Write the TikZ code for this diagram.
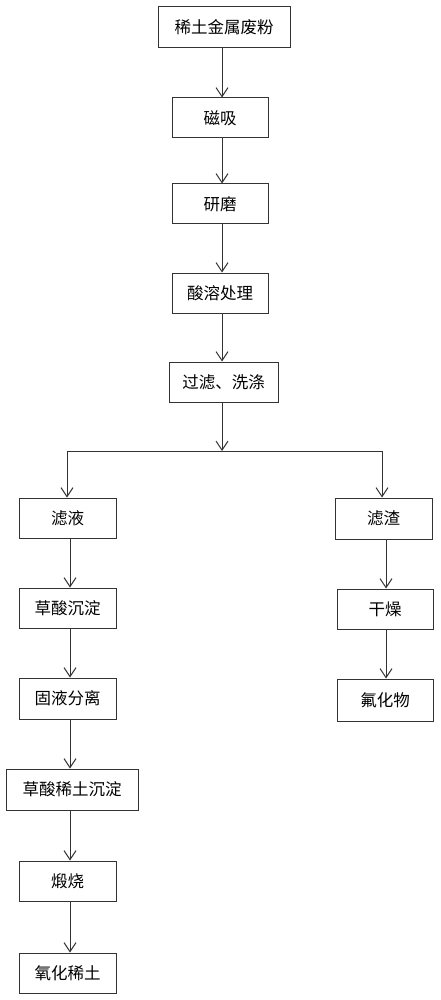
\documentclass[tikz,border=0pt]{standalone}
\usepackage{fontspec}
\newfontfamily\cjk{Noto Sans CJK SC}
\usetikzlibrary{arrows.meta}
\begin{document}
\begin{tikzpicture}[x=1pt,y=-1pt,
  box/.style={draw=black!80,line width=1pt,minimum height=40pt,inner sep=0pt,font=\cjk\fontsize{16.5}{18}\selectfont},
  flow/.style={draw=black!80,line width=1pt,-{Straight Barb[length=9pt,width=12pt,line width=1pt]}},
  link/.style={draw=black!80,line width=1pt}]
\useasboundingbox[fill=white] (0,0) rectangle (440,1000);
\node[box,minimum width=132pt,minimum height=41pt] (b1) at (224,27.5) {稀土金属废粉};
\node[box,minimum width=96pt] (b2) at (220,118) {磁吸};
\node[box,minimum width=96pt] (b3) at (220,204) {研磨};
\node[box,minimum width=96pt] (b4) at (220,293) {酸溶处理};
\node[box,minimum width=109pt] (b5) at (223.5,382) {过滤、洗涤};
\node[box,minimum width=97pt] (l1) at (67.5,518) {滤液};
\node[box,minimum width=97pt] (l2) at (67.5,608) {草酸沉淀};
\node[box,minimum width=97pt,minimum height=41pt] (l3) at (67.5,698.5) {固液分离};
\node[box,minimum width=132pt,minimum height=41pt] (l4) at (72,789.5) {草酸稀土沉淀};
\node[box,minimum width=97pt] (l5) at (67.5,881) {煅烧};
\node[box,minimum width=97pt] (l6) at (67.5,973) {氧化稀土};
\node[box,minimum width=97pt,minimum height=41pt] (r1) at (383.5,518.5) {滤渣};
\node[box,minimum width=96pt] (r2) at (385,609) {干燥};
\node[box,minimum width=96pt,minimum height=42pt] (r3) at (385,700) {氟化物};
\coordinate (mx) at (222,0);
\coordinate (lx) at (70,0);
\coordinate (rx) at (386,0);
\coordinate (split) at (222,451);
\coordinate (sl) at (67,451);
\coordinate (sr) at (382,451);
\draw[flow] (b1.south -| mx) -- (b2.north -| mx);
\draw[flow] (b2.south -| mx) -- (b3.north -| mx);
\draw[flow] (b3.south -| mx) -- (b4.north -| mx);
\draw[flow] (b4.south -| mx) -- (b5.north -| mx);
\draw[flow] (b5.south -| mx) -- (split);
\draw[link] (sl) -- (sr);
\draw[flow] (sl) -- (l1.north -| sl);
\draw[flow] (sr) -- (r1.north -| sr);
\draw[flow] (l1.south -| lx) -- (l2.north -| lx);
\draw[flow] (l2.south -| lx) -- (l3.north -| lx);
\draw[flow] (l3.south -| lx) -- (l4.north -| lx);
\draw[flow] (l4.south -| lx) -- (l5.north -| lx);
\draw[flow] (l5.south -| lx) -- (l6.north -| lx);
\draw[flow] (r1.south -| rx) -- (r2.north -| rx);
\draw[flow] (r2.south -| rx) -- (r3.north -| rx);
\end{tikzpicture}
\end{document}
